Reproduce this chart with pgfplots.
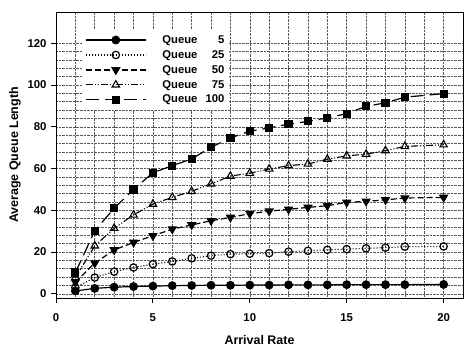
\documentclass[border=0pt]{standalone}
\usepackage{pgfplots}
\pgfplotsset{compat=1.18}
\usepackage{fontspec}
\setmainfont{Liberation Sans}
\begin{document}
\begin{tikzpicture}
\path[use as bounding box] (-56bp,-56bp) rectangle (418bp,298bp);
\begin{axis}[
  at={(0,0)}, anchor=south west,
  scale only axis,
  width=407bp, height=286bp,
  xmin=0, xmax=21, ymin=-2, ymax=135,
  xtick={0,5,10,15,20},
  ytick={0,20,40,60,80,100,120},
  minor x tick num=4,
  minor y tick num=4,
  minor tick length=0pt,
  major tick length=5bp,
  tick align=outside,
  xtick pos=left, ytick pos=left,
  grid=both,
  grid style={densely dotted, black!65, line width=0.6pt},
  axis line style={black, line width=1pt},
  every tick/.style={black, line width=0.9pt},
  /pgf/number format/assume math mode=true,
  ticklabel style={font=\fontsize{11.4}{13}\selectfont\bfseries},
  xticklabel style={yshift=-7bp},
  yticklabel style={xshift=-1bp},
  xlabel={Arrival Rate},
  ylabel={Average Queue Length},
  every axis x label/.style={at={(axis description cs:0.5,-0.147)},anchor=center,font=\fontsize{12.5}{15}\selectfont\bfseries},
  every axis y label/.style={at={(axis description cs:-0.101,0.5)},rotate=90,anchor=center,font=\fontsize{12.5}{15}\selectfont\bfseries},
  legend style={at={(0.064,0.94)}, anchor=north west, draw=none, fill=white,
    font=\fontsize{11.3}{14}\selectfont\bfseries, row sep=1.6bp, inner ysep=4bp, inner xsep=3bp},
  legend cell align=left,
  legend image code/.code={%
    \draw[mark repeat=2,mark phase=2,#1] plot coordinates {(0bp,0bp) (30bp,0bp) (60bp,0bp)};
    \path (74bp,0bp);},
]
% Queue 5
\addplot[black, line width=1.2pt, mark=*, mark size=3.8bp, mark options={solid, fill=black}]
coordinates {(1,1.4) (2,2.6) (3,3.2) (4,3.5) (5,3.7) (6,3.9) (7,4.0) (8,4.1) (9,4.1) (10,4.2)
 (11,4.2) (12,4.3) (13,4.3) (14,4.3) (15,4.4) (16,4.4) (17,4.4) (18,4.4) (20,4.5)};
\addlegendentry{Queue\makebox[27bp][r]{5}}
% Queue 25
\addplot[black, line width=1.1pt, dash pattern=on 1bp off 2bp, mark=o, mark size=3.7bp, mark options={solid, fill=white, line width=1.2pt}]
coordinates {(1,3.0) (2,7.8) (3,10.6) (4,12.6) (5,14.2) (6,15.5) (7,17.0) (8,18.3) (9,19.0) (10,19.2)
 (11,19.5) (12,20.2) (13,20.6) (14,21.1) (15,21.4) (16,21.8) (17,22.1) (18,22.6) (20,22.7)};
\addlegendentry{Queue\makebox[27bp][r]{25}}
% Queue 50
\addplot[black, line width=1.2pt, dash pattern=on 6bp off 3bp, mark=triangle*, mark size=4.3bp, mark options={solid, fill=black, rotate=180}]
coordinates {(1,5.6) (2,14.7) (3,21.0) (4,24.6) (5,27.8) (6,31.0) (7,33.0) (8,35.0) (9,36.6) (10,38.4)
 (11,39.6) (12,40.5) (13,41.4) (14,42.2) (15,43.8) (16,44.3) (17,45.0) (18,45.9) (20,46.2)};
\addlegendentry{Queue\makebox[27bp][r]{50}}
% Queue 75
\addplot[black, line width=1.1pt, dash pattern=on 7bp off 2bp on 1bp off 2bp on 1bp off 2bp, mark=triangle, mark size=4.3bp, mark options={solid, fill=white, line width=1.1pt}]
coordinates {(1,7.8) (2,23.0) (3,31.4) (4,37.8) (5,43.0) (6,46.2) (7,49.1) (8,52.7) (9,56.4) (10,57.8)
 (11,59.8) (12,61.4) (13,62.2) (14,64.5) (15,66.1) (16,66.9) (17,68.6) (18,70.6) (20,71.4)};
\addlegendentry{Queue\makebox[27bp][r]{75}}
% Queue 100
\addplot[black, line width=1.2pt, dash pattern=on 13bp off 6bp, mark=square*, mark size=3.5bp, mark options={solid, fill=black}]
coordinates {(1,10.2) (2,30.2) (3,41.0) (4,50.0) (5,58.0) (6,61.4) (7,64.6) (8,70.2) (9,74.7) (10,77.9)
 (11,79.5) (12,81.3) (13,82.6) (14,84.3) (15,86.3) (16,89.8) (17,91.5) (18,94.2) (20,95.9)};
\addlegendentry{Queue\makebox[27bp][r]{100}}
\end{axis}
\end{tikzpicture}
\end{document}
